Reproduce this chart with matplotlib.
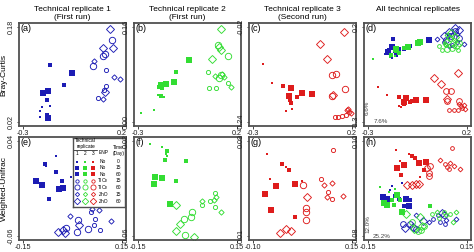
import matplotlib
matplotlib.use("Agg")
import matplotlib.pyplot as plt

plt.rcParams['font.family'] = ['Liberation Sans', 'DejaVu Sans']

# groups, 4 samples each, same order in every array below
groups = ["No 0", "No 15", "No 60", "TiO2 15", "TiO2 60", "ZnO 15", "ZnO 60"]
n_rep = 4

# ---- Bray-Curtis ----
a_rep1_x = [-.214, -.204, -.163, -.214, -.163, -.091, -.178, -.178, -.055, -.199, -.173, -.173,
            .121, .118, .080, .109, .151, .114, .104, .052, .061, .160, .192, .105, .140, .155, .105, .114]
a_rep1_y = [.038, .045, .047, .028, .116, .082, .057, .032, .102, .069, .072, .026,
            .108, .081, .060, .074, .159, .134, .131, .114, .122, .096, .092, .059, .176, .145, .145, .070]

b_rep2_x = [-.286, -.218, -.199, -.169, -.185, -.110, -.177, -.194, -.183, -.158, -.117, -.041,
            .053, .155, .061, .095, .104, .155, .118, .109, .090, .133, .169, .124, .121, .118, .075, .109]
b_rep2_y = [.0155, .0195, .045, .042, .044, .085, .057, .059, .062, .064, .067, .105,
            .084, .066, .058, .058, .130, .111, .079, .074, .077, .076, .059, .081, .157, .121, .106, .126]

c_rep3_x = [-.249, -.206, -.102, -.132, -.149, -.076, -.107, -.113, -.107, -.118, -.054, -.003,
            .115, .132, .149, .173, .099, .119, .166, .101, .186, .183, .195, .176, .161, .038, .073, .105]
c_rep3_y = [-.106, -.150, -.209, -.215, -.157, -.183, -.196, -.189, -.162, -.180, -.174, -.175,
            -.229, -.228, -.226, -.224, -.131, -.129, -.164, -.180, -.216, -.209, -.220, -.213, -.032, -.059, -.095, -.178]

d_rep1_x = [-.201, -.213, -.181, -.171, -.172, -.089, -.117, -.159, .009, -.181, -.151, -.201,
            .110, .151, .084, .126, .143, .121, .096, .161, .051, .188, .151, .111, .138, .110, .161, .086]
d_rep1_y = [.086, .057, .037, .069, .139, .100, .086, .051, .131, .095, .078, .069,
            .157, .122, .122, .106, .178, .153, .132, .143, .139, .109, .165, .100, .195, .174, .185, .153]
d_rep2_x = [-.276, -.166, -.141, -.191, -.117, -.142, -.184, -.161, -.050, -.038, -.159, -.100,
            .059, .093, .073, .155, .101, .123, .163, .113, .135, .101, .091, .136, .121, .141, .101, .151]
d_rep2_y = [.030, .048, .064, .042, .090, .065, .051, .074, .116, .122, .083, .095,
            .100, .104, .078, .078, .086, .090, .118, .143, .131, .157, .111, .100, .169, .148, .122, .106]
d_rep3_x = [-.251, -.206, -.134, -.146, -.146, -.079, -.117, -.090, -.109, -.117, -.059, -.005,
            .110, .135, .156, .177, .096, .120, .101, .160, .185, .193, .171, .161, .155, .034, .071, .101]
d_rep3_y = [-.116, -.160, -.221, -.216, -.169, -.190, -.206, -.195, -.174, -.195, -.183, -.186,
            -.239, -.239, -.236, -.227, -.139, -.137, -.190, -.190, -.212, -.230, -.216, -.206, -.042, -.068, -.102, -.179]

# ---- Weighted-Unifrac ----
e_rep1_x = [-.049, -.085, -.005, -.081, -.049, -.032, -.072, -.083, -.110, -.092, -.041, -.029,
            .056, .068, .084, .067, .018, -.021, .048, .013, -.008, .060, .082, .117, -.043, -.023, -.029, .020]
e_rep1_y = [.0246, .0156, .0025, .0138, .0071, -.0021, -.0214, .0162, -.0021, -.0063, -.0105, -.0091,
            -.0348, -.0418, -.0541, -.0485, -.0429, -.0516, -.0524, -.0559, -.039, -.0319, -.033, -.0446,
            -.0559, -.0569, -.0537, -.0482]

f_rep2_x = [-.113, -.078, -.062, -.065, -.062, -.069, -.004, -.036, -.100, -.078, -.103, -.052,
            .085, .044, .070, .083, .014, .010, -.012, -.009, .044, .081, .101, .087, -.034, -.024, -.034, .019]
f_rep2_y = [.0173, .0152, .0076, .0091, .0116, .004, .0034, -.0137, -.0106, -.0114, -.0162, -.0334,
            -.0236, -.034, -.0306, -.0354, -.0401, -.0438, -.046, -.0593, -.0303, -.0297, -.0396, -.0272,
            -.034, -.0502, -.0557, -.0612]

g_rep3_x = [-.066, -.018, -.058, .023, -.026, -.009, .005, .003, -.043, .006, -.069, -.054,
            .103, .071, .090, .101, .026, .035, .035, .034, .080, .101, .128, .086, .037, -.032, -.018, -.003]
g_rep3_y = [.0789, .0681, .0577, .0563, .0704, .0653, .0259, .0546, .0518, .0538, .0451, .0316,
            .0822, .0582, .047, .0409, .0527, .0335, .0236, .0301, .0527, .0546, .0434, .0428,
            .0428, .0127, .0155, .0141]

h_rep1_x = [-.078, -.047, -.070, -.085, -.070, -.055, -.040, -.024, -.106, -.093, -.035, -.025,
            .061, .069, .084, .048, -.045, -.023, -.006, .082, -.005, .035, .088, .118, -.015, -.039, .018, .074]
h_rep1_y = [.014, .021, -.023, .007, -.004, -.010, -.023, -.012, -.006, -.009, -.009, -.023,
            -.040, -.053, -.058, -.048, -.058, -.057, -.067, -.040, -.040, -.053, -.050, -.048, -.063, -.065, -.052, -.037]
h_rep2_x = [-.113, -.070, -.066, -.088, -.078, -.073, .038, -.054, -.101, -.094, -.048, -.062,
            .045, .081, .100, .067, .010, .021, .000, -.018, .086, .108, .118, .058, -.035, .007, .013, -.010]
h_rep2_y = [.012, .010, -.002, .003, -.012, -.021, -.023, -.012, -.018, -.021, -.035, -.002,
            -.039, -.034, -.038, -.046, -.069, -.061, -.071, -.054, -.040, -.054, -.035, -.035, -.038, -.045, -.061, -.067]
h_rep3_x = [-.064, -.027, -.052, .008, -.017, -.007, -.050, .021, .006, -.042, -.062, .025,
            .106, .084, .091, .096, .030, .035, .035, .038, .070, .099, .111, .131, -.032, -.018, -.005, .005]
h_rep3_y = [.083, .075, .062, .031, .071, .068, .036, .045, .059, .055, .048, .061,
            .086, .056, .050, .047, .048, .040, .033, .052, .064, .058, .053, .047, .017, .017, .018, .018]

# axis end ticks (labels as printed)
ticks = {
    'a': (["-0.3", "0.2"], ["0.02", "0.18"]),
    'b': (["-0.3", "0.2"], ["0.00", "0.16"]),
    'c': (["-0.3", "0.2"], ["-0.24", "-0.02"]),
    'd': (["-0.3", "0.2"], ["-0.3", "0.2"]),
    'e': (["-0.15", "0.15"], ["-0.06", "0.04"]),
    'f': (["-0.15", "0.15"], ["-0.06", "0.02"]),
    'g': (["-0.10", "0.15"], ["0.01", "0.09"]),
    'h': (["-0.15", "0.15"], ["-0.08", "0.10"]),
}
titles = ["Technical replicate 1\n(First run)", "Technical replicate 2\n(First run)",
          "Technical replicate 3\n(Second run)", "All technical replicates\n "]
row_labels = ["Bray-Curtis", "Weighted-Unifrac"]

blue, green, red = '#1c1cb4', '#33dd33', '#de1c1c'
g_marker = ['s', 's', 's', 'o', 'o', 'D', 'D']
g_size = [1.9, 2.9, 4.1, 3.0, 4.6, 2.7, 4.1]
g_filled = [True, True, True, False, False, False, False]


def draw_rep(ax, xs, ys, color, scale=1.0):
    for gi in range(len(groups)):
        sl = slice(gi * n_rep, (gi + 1) * n_rep)
        ax.plot(xs[sl], ys[sl], ls='none', marker=g_marker[gi], ms=g_size[gi] * scale,
                mfc=color if g_filled[gi] else 'none', mec=color,
                mew=0 if g_filled[gi] else 0.65)


def pad(lo, hi):
    d = (hi - lo) * 0.04 / 0.92
    return lo - d, hi + d


fig = plt.figure(figsize=(4.74, 2.52), dpi=100)
lefts = [19, 134, 249, 364]
bottoms = [126, 240]
W, H = 107, 103

panels = {
    'a': [(a_rep1_x, a_rep1_y, blue)],
    'b': [(b_rep2_x, b_rep2_y, green)],
    'c': [(c_rep3_x, c_rep3_y, red)],
    'd': [(d_rep1_x, d_rep1_y, blue), (d_rep2_x, d_rep2_y, green), (d_rep3_x, d_rep3_y, red)],
    'e': [(e_rep1_x, e_rep1_y, blue)],
    'f': [(f_rep2_x, f_rep2_y, green)],
    'g': [(g_rep3_x, g_rep3_y, red)],
    'h': [(h_rep1_x, h_rep1_y, blue), (h_rep2_x, h_rep2_y, green), (h_rep3_x, h_rep3_y, red)],
}

axes = {}
for i, key in enumerate("abcdefgh"):
    row, col = divmod(i, 4)
    ax = fig.add_axes([lefts[col] / 474, (252 - bottoms[row]) / 252, W / 474, H / 252])
    axes[key] = ax
    for xs, ys, c in panels[key]:
        draw_rep(ax, xs, ys, c, 0.9 if key in 'dh' else 1.0)

    xl, yl = ticks[key]
    xv = [float(v) for v in xl]
    yv = [float(v) for v in yl]
    ax.set_xlim(*pad(*xv))
    ax.set_ylim(*pad(*yv))
    ax.set_xticks(xv)
    ax.set_xticklabels(xl)
    ax.set_yticks(yv)
    ax.set_yticklabels(yl, rotation=90, va='center')
    ax.tick_params(length=1.8, width=0.7, pad=1, labelsize=5.2, color='#444444', labelcolor='#222222')
    for s in ax.spines.values():
        s.set_color('#505050')
        s.set_linewidth(1.3)
    ax.text(0.015, 0.99, f"({key})", transform=ax.transAxes, ha='left', va='top', fontsize=6.5)
    if row == 0:
        ax.set_title(titles[col], fontsize=6, pad=3, linespacing=1.25)
    if col == 0:
        ax.set_ylabel(row_labels[row], fontsize=6)
        ax.yaxis.set_label_coords(-0.105, 0.5)

# explained variance on the combined panels
axes['d'].text(0.03, 0.175, "6.6%", rotation=90, transform=axes['d'].transAxes,
               ha='center', va='center', fontsize=4.5, color='#444444')
axes['d'].text(0.16, 0.045, "7.6%", transform=axes['d'].transAxes,
               ha='center', va='center', fontsize=4.5, color='#444444')
axes['h'].text(0.033, 0.15, "12.0%", rotation=90, transform=axes['h'].transAxes,
               ha='center', va='center', fontsize=4.5, color='#444444')
axes['h'].text(0.16, 0.035, "25.2%", transform=axes['h'].transAxes,
               ha='center', va='center', fontsize=4.5, color='#444444')

# legend table in panel (e)
lg = axes['e'].inset_axes([0.505, 0.32, 0.49, 0.675])
lg.set_xlim(0, 1)
lg.set_ylim(0, 1)
lg.set_xticks([])
lg.set_yticks([])
for s in lg.spines.values():
    s.set_color('#505050')
    s.set_linewidth(1.0)
fs = 3.5
lg.text(0.24, 0.95, "Technical", ha='center', va='center', fontsize=fs)
lg.text(0.24, 0.875, "replicate", ha='center', va='center', fontsize=fs)
lg.plot([0.0, 0.46], [0.825, 0.825], color='k', lw=0.5)
col_x = [0.07, 0.23, 0.38]
for cx, t in zip(col_x, "123"):
    lg.text(cx, 0.77, t, ha='center', va='center', fontsize=fs)
lg.text(0.575, 0.79, "ENP", ha='center', va='center', fontsize=fs)
lg.text(0.865, 0.86, "Time", ha='center', va='center', fontsize=fs)
lg.text(0.865, 0.77, "(Day)", ha='center', va='center', fontsize=fs)
enp = ["No", "No", "No", "TiO$_2$", "TiO$_2$", "ZnO", "ZnO"]
days = ["0", "15", "60", "15", "60", "15", "60"]
row_y = [0.655, 0.565, 0.475, 0.38, 0.285, 0.185, 0.085]
for gi, ry in enumerate(row_y):
    for cx, c in zip(col_x, [blue, green, red]):
        lg.plot(cx, ry, ls='none', marker=g_marker[gi], ms=g_size[gi] * 0.8,
                mfc=c if g_filled[gi] else 'none', mec=c, mew=0 if g_filled[gi] else 0.6)
    lg.text(0.575, ry, enp[gi], ha='center', va='center', fontsize=fs)
    lg.text(0.865, ry, days[gi], ha='center', va='center', fontsize=fs)

fig.savefig("out.png", dpi=100)
